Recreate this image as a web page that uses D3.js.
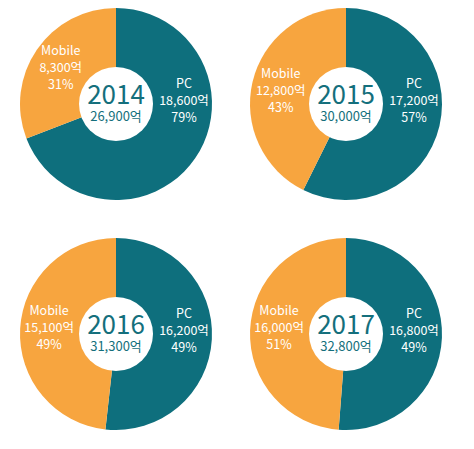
<!DOCTYPE html>
<html><head><meta charset="utf-8">
<script src="https://cdn.jsdelivr.net/npm/d3@7"></script>
<style>body{margin:0;background:#fff}text{font-family:"Noto Sans CJK KR","Noto Sans",sans-serif}</style>
</head><body>
<svg id="chart" width="474" height="449"></svg>
<script>
// values
var years = ["2014", "2015", "2016", "2017"];
var pcValues = [18600, 17200, 16200, 16800];
var mobileValues = [8300, 12800, 15100, 16000];
var totals = ["26,900억", "30,000억", "31,300억", "32,800억"];
var pcPct = ["79%", "57%", "49%", "49%"];
var mobilePct = ["31%", "43%", "49%", "51%"];

var colors = {pc: "#0e6f7d", mobile: "#f7a53f"};
var svg = d3.select("#chart");
var centers = [[116, 104], [346, 104], [116, 334], [346, 334]];
var R = 96, r = 37;

var pie = d3.pie().sort(null).value(d => d.value);
var arc = d3.arc().innerRadius(0).outerRadius(R);
var labelArc = d3.arc().innerRadius(67).outerRadius(67);

years.forEach((year, i) => {
  var g = svg.append("g").attr("transform", `translate(${centers[i]})`);
  var data = [
    {key: "pc", name: "PC", value: pcValues[i], pct: pcPct[i]},
    {key: "mobile", name: "Mobile", value: mobileValues[i], pct: mobilePct[i]}
  ];
  var arcs = pie(data);
  g.selectAll("path").data(arcs).enter().append("path")
    .attr("d", arc).attr("fill", d => colors[d.data.key]);
  g.append("circle").attr("r", r).attr("fill", "#fff");

  g.append("text").attr("text-anchor", "middle").attr("y", 0)
    .attr("font-size", 26).attr("fill", "#146f7c").text(year);
  g.append("text").attr("text-anchor", "middle").attr("y", 17)
    .attr("font-size", 13).attr("fill", "#146f7c").text(totals[i]);

  arcs.forEach(a => {
    var pos = a.data.key == "pc" ? [68, -3] : labelArc.centroid(a);
    if (a.data.key == "mobile") pos[1] = Math.min(pos[1], -8) + 2;
    var t = g.append("text").attr("text-anchor", "middle").attr("fill", "#fff")
      .attr("font-size", 12.5).attr("transform", `translate(${pos})`);
    [a.data.name, d3.format(",")(a.data.value) + "억", a.data.pct].forEach((s, k) => {
      t.append("tspan").attr("x", 0).attr("y", (k - 1) * 17 + 4).text(s);
    });
  });
});
</script>
</body></html>
